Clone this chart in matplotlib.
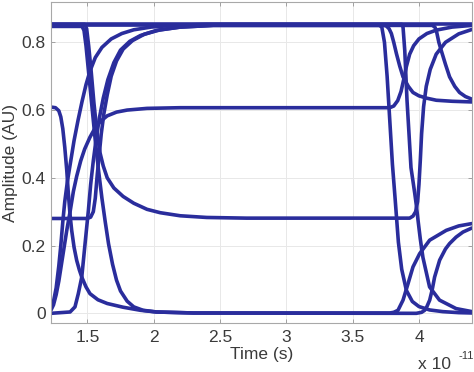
import matplotlib
matplotlib.use("Agg")
import matplotlib.pyplot as plt

plt.rcParams["font.family"] = ["Liberation Sans", "DejaVu Sans"]

# time in units of 1e-11 s, amplitude in AU
t_top1 = [1.224, 4.40]
a_top1 = [0.855, 0.855]

t_top2 = [1.224, 3.70, 3.72, 3.74, 3.76, 3.78, 3.80, 3.82, 3.845, 3.87, 3.905,
          3.95, 4.0, 4.08, 4.18, 4.30, 4.40]
a_top2 = [0.851, 0.851, 0.845, 0.80, 0.70, 0.57, 0.44, 0.34, 0.21, 0.13, 0.068,
          0.035, 0.02, 0.01, 0.005, 0.002, 0.001]

t_b = [1.224, 1.46, 1.475, 1.49, 1.51, 1.535, 1.56, 1.585, 1.61, 1.635, 1.66,
       1.69, 1.72, 1.75, 1.8, 1.85, 1.92, 2.02, 2.3, 3.78, 3.81, 3.842, 3.88,
       3.918, 3.955, 4.005, 4.081, 4.206, 4.30, 4.40]
a_b = [0.847, 0.847, 0.835, 0.79, 0.71, 0.61, 0.51, 0.42, 0.34, 0.27, 0.205,
       0.145, 0.098, 0.066, 0.036, 0.019, 0.009, 0.004, 0.001, 0.001, 0.003, 0.009,
       0.039, 0.088, 0.137, 0.176, 0.216, 0.245, 0.258, 0.265]

t_c = [1.224, 1.48, 1.495, 1.51, 1.53, 1.55, 1.57, 1.595, 1.62, 1.65, 1.7,
       1.77, 1.85, 1.95, 2.05, 2.2, 2.4, 2.7, 3.93, 3.955, 3.975, 3.99, 4.0,
       4.01, 4.02, 4.035, 4.055, 4.085, 4.13, 4.2, 4.3, 4.40]
a_c = [0.853, 0.853, 0.84, 0.79, 0.71, 0.62, 0.545, 0.475, 0.435, 0.40, 0.37,
       0.345, 0.325, 0.307, 0.297, 0.288, 0.283, 0.281, 0.281, 0.287, 0.30, 0.33,
       0.38, 0.45, 0.53, 0.61, 0.67, 0.72, 0.765, 0.80, 0.825, 0.838]

t_e = [1.224, 1.26, 1.285, 1.30, 1.315, 1.33, 1.345, 1.357, 1.37, 1.382, 1.40,
       1.42, 1.44, 1.458, 1.49, 1.52, 1.58, 1.65, 1.77, 1.9, 2.02, 2.3, 3.98,
       4.02, 4.043, 4.06, 4.081, 4.10, 4.118, 4.156, 4.2, 4.231, 4.28, 4.332, 4.40]
a_e = [0.609, 0.607, 0.598, 0.58, 0.545, 0.49, 0.422, 0.353, 0.29, 0.245, 0.195,
       0.156, 0.128, 0.107, 0.078, 0.058, 0.04, 0.029, 0.018, 0.009, 0.004, 0.001, 0.0,
       0.003, 0.009, 0.02, 0.039, 0.07, 0.107, 0.157, 0.19, 0.206, 0.225, 0.24, 0.252]

t_f = [1.224, 1.5, 1.525, 1.545, 1.56, 1.575, 1.59, 1.605, 1.625, 1.65, 1.68,
       1.72, 1.77, 1.84, 1.93, 2.05, 2.2, 2.45, 3.74, 3.755, 3.775, 3.792, 3.81,
       3.83, 3.855, 3.88, 3.92, 3.955, 4.0, 4.06, 4.131, 4.25, 4.40]
a_f = [0.28, 0.28, 0.284, 0.30, 0.34, 0.41, 0.47, 0.53, 0.59, 0.645, 0.70,
       0.745, 0.78, 0.805, 0.824, 0.837, 0.845, 0.85, 0.85, 0.848, 0.84, 0.826, 0.80,
       0.767, 0.73, 0.698, 0.67, 0.652, 0.642, 0.635, 0.629, 0.626, 0.624]

t_g = [1.224, 1.245, 1.265, 1.285, 1.30, 1.315, 1.33, 1.35, 1.375, 1.40, 1.43,
       1.46, 1.49, 1.52, 1.56, 1.61, 1.68, 1.76, 1.85, 1.98, 2.15, 2.4, 3.87,
       3.88, 3.893, 3.91, 3.925, 3.94, 3.955, 3.968, 3.98, 3.993, 4.01, 4.03,
       4.08, 4.155, 4.28, 4.40]
a_g = [0.012, 0.035, 0.075, 0.14, 0.20, 0.27, 0.33, 0.39, 0.45, 0.51, 0.57,
       0.625, 0.675, 0.715, 0.755, 0.785, 0.81, 0.826, 0.837, 0.845, 0.85, 0.853, 0.853,
       0.845, 0.776, 0.629, 0.53, 0.43, 0.39, 0.355, 0.32, 0.275, 0.22, 0.165,
       0.078, 0.039, 0.014, 0.005]

t_h = [1.224, 1.37, 1.407, 1.432, 1.458, 1.483, 1.508, 1.525, 1.545, 1.565, 1.59,
       1.62, 1.655, 1.70, 1.75, 1.82, 1.90, 2.02, 2.2, 2.45, 4.10, 4.12, 4.131,
       4.15, 4.168, 4.2, 4.231, 4.27, 4.306, 4.35, 4.40]
a_h = [0.0, 0.004, 0.019, 0.058, 0.107, 0.206, 0.304, 0.38, 0.45, 0.51, 0.575,
       0.635, 0.69, 0.74, 0.777, 0.803, 0.82, 0.835, 0.845, 0.85, 0.85, 0.845, 0.835,
       0.80, 0.776, 0.735, 0.698, 0.67, 0.652, 0.64, 0.632]

t_j = [1.224, 1.245, 1.265, 1.285, 1.305, 1.325, 1.345, 1.37, 1.395, 1.42, 1.45,
       1.48, 1.52, 1.56, 1.60, 1.65, 1.72, 1.8, 1.95, 2.2, 3.78, 3.81, 3.84,
       3.865, 3.885, 3.905, 3.93, 3.96, 4.0, 4.06, 4.13, 4.25, 4.40]
a_j = [0.008, 0.025, 0.055, 0.095, 0.145, 0.195, 0.245, 0.30, 0.36, 0.405, 0.45,
       0.485, 0.52, 0.548, 0.567, 0.583, 0.594, 0.60, 0.605, 0.607, 0.607, 0.612, 0.628,
       0.655, 0.69, 0.728, 0.765, 0.79, 0.81, 0.826, 0.836, 0.845, 0.85]

traces = [(t_top1, a_top1), (t_top2, a_top2), (t_b, a_b), (t_c, a_c), (t_e, a_e),
          (t_f, a_f), (t_g, a_g), (t_h, a_h), (t_j, a_j)]

x_ticks = [1.5, 2, 2.5, 3, 3.5, 4]
x_labels = ["1.5", "2", "2.5", "3", "3.5", "4"]
y_ticks = [0, 0.2, 0.4, 0.6, 0.8]
y_labels = ["0", "0.2", "0.4", "0.6", "0.8"]

fig = plt.figure(figsize=(4.74, 3.72), dpi=100)
ax = fig.add_axes([0.107, 0.1304, 0.8888, 0.8651])

line_color = "#2a2d9c"
for t, a in traces:
    ax.plot(t, a, color=line_color, linewidth=2.6, solid_capstyle="round",
            solid_joinstyle="round")

ax.set_xlim(1.224, 4.40)
ax.set_ylim(-0.03, 0.92)
ax.set_xticks(x_ticks)
ax.set_xticklabels(x_labels)
ax.set_yticks(y_ticks)
ax.set_yticklabels(y_labels)
ax.grid(True, color="#e8e8e8", linewidth=0.7)
ax.set_axisbelow(True)

ax.tick_params(direction="in", length=3, width=0.7, colors="#a0a0a0",
               labelcolor="#3a3a3a", labelsize=12.5, top=True, right=True)
ax.tick_params(axis="x", pad=5)
for s in ax.spines.values():
    s.set_color("#a8a8a8")
    s.set_linewidth(0.8)

ax.set_xlabel("Time (s)", fontsize=12.5, color="#3a3a3a", labelpad=1)
ax.set_ylabel("Amplitude (AU)", fontsize=12.5, color="#3a3a3a", labelpad=3)

fig.text(0.882, 0.0, "x 10", fontsize=12.5, color="#3a3a3a", va="bottom")
fig.text(0.968, 0.03, "-11", fontsize=8, color="#3a3a3a", va="bottom")

fig.savefig("out.png", dpi=100)
plt.close(fig)
